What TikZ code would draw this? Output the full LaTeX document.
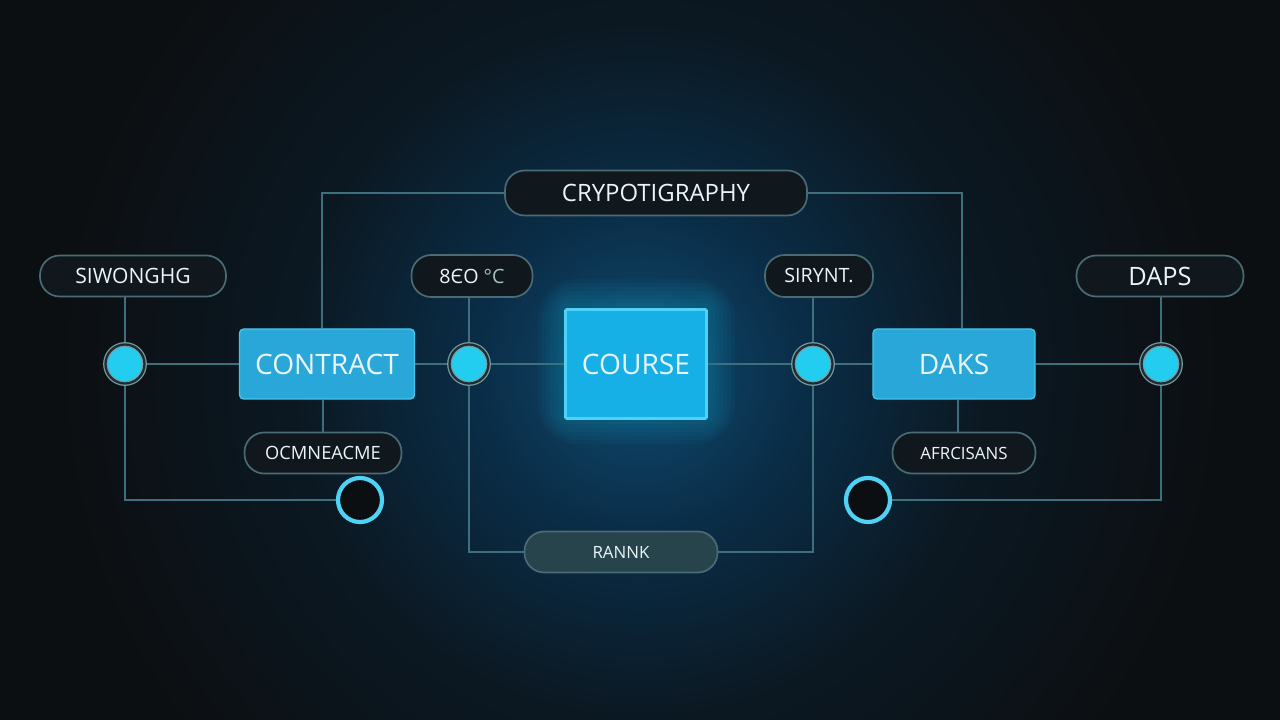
\documentclass[tikz,border=0pt]{standalone}
\usepackage{fontspec}
\setmainfont{Open Sans}
\usetikzlibrary{calc}
\pgfdeclarelayer{back}
\pgfdeclarelayer{wires}
\pgfsetlayers{back,wires,main}
\definecolor{bgc}{HTML}{0C0F12}
\definecolor{glowcore}{HTML}{0F4B72}
\definecolor{glow}{HTML}{0A2D47}
\definecolor{glowfar}{HTML}{0B1822}
\definecolor{wire}{HTML}{3E6F7C}
\definecolor{pillline}{HTML}{4B6B74}
\definecolor{pillfill}{HTML}{10181D}
\definecolor{txt}{HTML}{EAF6FA}
\definecolor{boxfill}{HTML}{29A7D8}
\definecolor{coursefill}{HTML}{17B0E6}
\definecolor{dotfill}{HTML}{22CDF0}
\definecolor{ringc}{HTML}{4FD2F5}
\pgfdeclareradialshading{backglow}{\pgfpoint{0bp}{0bp}}{color(0bp)=(glowcore); color(7bp)=(glow);
	color(15bp)=(glowfar); color(25bp)=(bgc); color(50bp)=(bgc)}
\newcommand\px{0.025cm}

\begin{document}
\begin{tikzpicture}[x=0.025cm,y=-0.025cm,
	pill/.style 2 args={draw=pillline, fill=pillfill, line width=1.2pt, rounded corners=14pt,
		text=txt, inner sep=0pt, minimum width=#1*\px, minimum height=#2*\px},
	bluebox/.style 2 args={draw=ringc!70!boxfill, fill=boxfill, line width=1pt, rounded corners=3pt,
		text=txt, inner sep=0pt, minimum width=#1*\px, minimum height=#2*\px},
	dot/.style={circle, fill=dotfill, draw=wire!70!white, line width=0.9pt,
		double=bgc!70!wire, double distance=1.6pt, minimum size=39*\px, inner sep=0pt},
	ring/.style={circle, draw=ringc, fill=bgc, line width=3pt, minimum size=44*\px, inner sep=0pt},
	wireline/.style={draw=wire, line width=1.4pt}]
	\def\midy{364}	%height of the main line
	\def\lowy{500}	%height of the two open rings
	\def\boty{552}	%height of the bottom pill

	\begin{pgfonlayer}{back}
		\useasboundingbox (0,0) rectangle (1280,720);
		\fill[bgc] (0,0) rectangle (1280,720);
		\shade[shading=backglow] (640,370) circle (580);	%glow round the middle
		\foreach \g in {28,24,...,4}
			\fill[dotfill, opacity=0.035, rounded corners=\g pt] (566-\g,307-\g) rectangle (707+\g,416+\g);	%halo of course
	\end{pgfonlayer}

	%boxes on the main line
	\node[bluebox={175}{70}, font=\fontsize{20}{24}\selectfont] (contract) at (327,\midy) {CONTRACT};
	\node[bluebox={141}{109}, fill=coursefill, draw=ringc, line width=2pt, rounded corners=1pt,
		font=\fontsize{20}{24}\selectfont] (course) at (636,\midy) {COURSE};
	\node[bluebox={162}{70}, font=\fontsize{20}{24}\selectfont] (daks) at (954,\midy) {DAKS};

	%pills
	\node[pill={302}{45}, font=\fontsize{17}{20}\selectfont] (crypto) at (656,193) {CRYPOTIGRAPHY};
	\node[pill={186}{41}, font=\fontsize{15}{18}\selectfont] (siwon) at (133,276) {SIWONGHG};
	\node[pill={121}{42}, font=\fontsize{14}{17}\selectfont] (eo) at (472,276) {8ЄO \textcolor{txt!60!wire}{°C}};
	\node[pill={108}{42}, font=\fontsize{14}{17}\selectfont] (sirynt) at (819,276) {SIRYNT.};
	\node[pill={167}{41}, font=\fontsize{18}{21}\selectfont] (daps) at (1160,276) {DAPS};
	\node[pill={157}{41}, font=\fontsize{13}{16}\selectfont] (ocm) at (323,453) {OCMNEACME};
	\node[pill={143}{41}, font=\fontsize{12}{15}\selectfont] (afr) at (964,453) {AFRCISANS};
	\node[pill={193}{41}, fill=wire!55!bgc, font=\fontsize{12}{15}\selectfont] (rank) at (621,\boty) {RANNK};

	%filled dots and open rings
	\foreach \n/\x in {d1/125,d2/469,d3/813,d4/1161}
		\node[dot] (\n) at (\x,\midy) {};
	\node[ring] (r1) at (360,\lowy) {};
	\node[ring] (r2) at (868,\lowy) {};
	\coordinate (afrtop) at ($(afr.north)+(-6,0)$);

	\begin{pgfonlayer}{wires}
		\draw[wireline] (d1) -- (contract) -- (d2) -- (course) -- (d3) -- (daks) -- (d4);	%main line
		\draw[wireline] (siwon.south -| d1) -- (d1) |- (r1);
		\draw[wireline] (eo.south -| d2) -- (d2) |- (rank);
		\draw[wireline] (sirynt.south -| d3) -- (d3) |- (rank);
		\draw[wireline] (daps.south -| d4) -- (d4) |- (r2);
		\draw[wireline] (crypto.west) -| ($(contract.north)+(-5,0)$);
		\draw[wireline] (crypto.east) -| ($(daks.north)+(8,0)$);
		\draw[wireline] (contract.south -| ocm) -- (ocm);
		\draw[wireline] (afrtop |- daks.south) -- (afrtop);
	\end{pgfonlayer}
\end{tikzpicture}
\end{document}
